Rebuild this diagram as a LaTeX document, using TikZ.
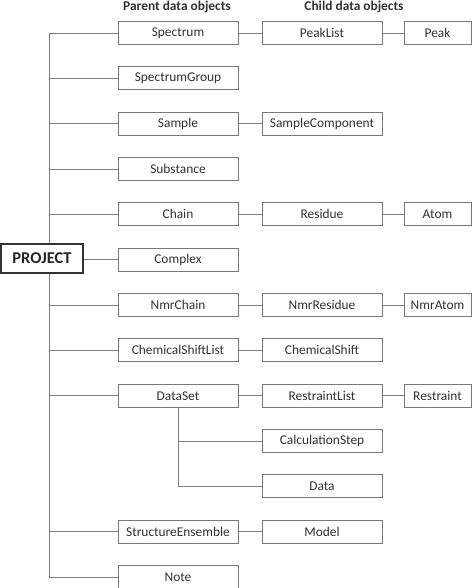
\documentclass[tikz,border=0pt]{standalone}
\usepackage{fontspec}
\setmainfont{Carlito}
\usetikzlibrary{positioning}
\definecolor{boxgray}{RGB}{120,120,120}
\definecolor{linegray}{RGB}{125,125,125}
\definecolor{textgray}{RGB}{50,50,50}

\begin{document}
\begin{tikzpicture}[
    x=1pt, y=-1pt,
    box/.style={rectangle, draw=boxgray, fill=white, line width=0.9pt,
                minimum width=120pt, minimum height=23pt, inner sep=0pt,
                text=textgray, font=\fontsize{13.4}{15}\selectfont},
    leaf/.style={box, minimum width=67pt},
    root/.style={rectangle, draw=black!80, line width=1.6pt, fill=white,
                 minimum width=82pt, minimum height=29pt, inner sep=0pt,
                 text=black!85, font=\fontsize{16.5}{18}\selectfont\bfseries},
    head/.style={font=\fontsize{13.4}{15}\selectfont\bfseries, text=textgray},
    link/.style={draw=linegray, line width=0.9pt}
]
\useasboundingbox (0,0) rectangle (474,588);

% headers
\node[head] (parenthead) at (177,6.5) {Parent data objects};
\node[head] (childhead) at (354,6.5) {Child data objects};

% root
\node[root] (project) at (42,258.5) {PROJECT};

% parent data objects
\node[box] (spectrum) at (178,33) {Spectrum};
\node[box] (spectrumgroup) at (178,78.3) {SpectrumGroup};
\node[box] (sample) at (178,123.7) {Sample};
\node[box] (substance) at (178,169) {Substance};
\node[box] (chain) at (178,214.3) {Chain};
\node[box] (complex) at (178,259.7) {Complex};
\node[box] (nmrchain) at (178,305) {NmrChain};
\node[box] (shiftlist) at (178,350.3) {ChemicalShiftList};
\node[box] (dataset) at (178,395.7) {DataSet};
\node[box] (ensemble) at (178,531.7) {StructureEnsemble};
\node[box] (note) at (178,577) {Note};

% child data objects
\node[box] (peaklist) at (322,33) {PeakList};
\node[box] (samplecomp) at (322,123.7) {SampleComponent};
\node[box] (residue) at (322,214.3) {Residue};
\node[box] (nmrresidue) at (322,305) {NmrResidue};
\node[box] (shift) at (322,350.3) {ChemicalShift};
\node[box] (restraintlist) at (322,395.7) {RestraintList};
\node[box] (calcstep) at (322,441) {CalculationStep};
\node[box] (data) at (322,486.3) {Data};
\node[box] (model) at (322,531.7) {Model};

\node[leaf] (peak) at (437.5,33) {Peak};
\node[leaf] (atom) at (437.5,214.3) {Atom};
\node[leaf] (nmratom) at (437.5,305) {NmrAtom};
\node[leaf] (restraint) at (437.5,395.7) {Restraint};

% trunk
\coordinate (trunktop) at (49,33);
\coordinate (trunkbot) at (49,577);
\draw[link] (trunktop) -- (project.north -| trunktop);
\draw[link] (project.south -| trunktop) -- (trunkbot);
\foreach \n in {spectrum,spectrumgroup,sample,substance,chain,nmrchain,shiftlist,dataset,ensemble,note}
    \draw[link] (\n.west) -- (\n.west -| trunktop);
\draw[link] (project.east |- complex) -- (complex.west);

% children
\foreach \a/\b in {spectrum/peaklist,peaklist/peak,sample/samplecomp,chain/residue,residue/atom,
                   nmrchain/nmrresidue,nmrresidue/nmratom,shiftlist/shift,dataset/restraintlist,
                   restraintlist/restraint,ensemble/model}
    \draw[link] (\a) -- (\b);
\draw[link] (dataset.south) |- (data.west);
\draw[link] (calcstep.west) -- (calcstep.west -| dataset.south);

\end{tikzpicture}
\end{document}
